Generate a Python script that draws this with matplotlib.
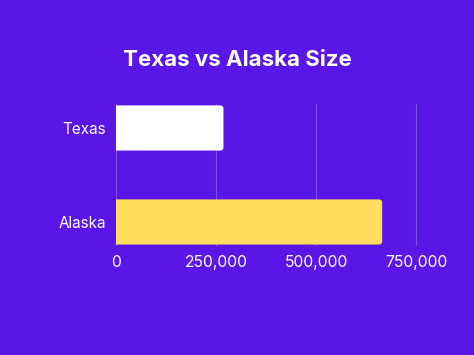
import matplotlib.pyplot as plt
from matplotlib.patches import FancyBboxPatch

# data
states = ['Alaska', 'Texas']
areas = [665384, 268596]
bar_colors = ['#FFDC5C', '#FFFFFF']
ticks = [0, 250000, 500000, 750000]
tick_labels = ['0', '250,000', '500,000', '750,000']

bg = '#5A16E6'
plt.rcParams['font.family'] = ['Inter', 'DejaVu Sans']

fig = plt.figure(figsize=(4.74, 3.55), dpi=100, facecolor=bg)
ax = fig.add_axes([116/474, 110/355, 300/474, 141/355])
ax.set_facecolor(bg)

ax.set_xlim(0, 750000)
ax.set_ylim(-0.245, 1.255)

bars = ax.barh(states, areas, height=0.48, color=bar_colors, zorder=3)
# swap the plain bars for ones with small rounded corners
xpp = 750000 / 300      # x units per pixel
ypp = 1.5 / 141         # y units per pixel
for b in bars:
    b.set_visible(False)
    p = FancyBboxPatch((b.get_x() - 10000, b.get_y()), b.get_width() + 10000, b.get_height(),
                       boxstyle='round,pad=0,rounding_size=%f' % (3 * xpp),
                       mutation_aspect=ypp / xpp,
                       facecolor=b.get_facecolor(), edgecolor='none', zorder=3)
    ax.add_patch(p)

ax.set_xticks(ticks)
ax.set_xticklabels(tick_labels)
ax.grid(axis='x', color='#7D4EEE', linewidth=0.8, zorder=0)
for gl in ax.get_xgridlines():
    gl.set_clip_on(False)
for s in ax.spines.values():
    s.set_visible(False)
ax.tick_params(length=0, colors='white')
ax.tick_params(axis='x', labelsize=11.3, pad=7)
ax.tick_params(axis='y', labelsize=11, pad=7)

fig.text(0.5, 0.83, 'Texas vs Alaska Size', color='white', fontsize=16,
         fontweight='bold', ha='center', va='center')

fig.savefig('out.png', facecolor=bg)
